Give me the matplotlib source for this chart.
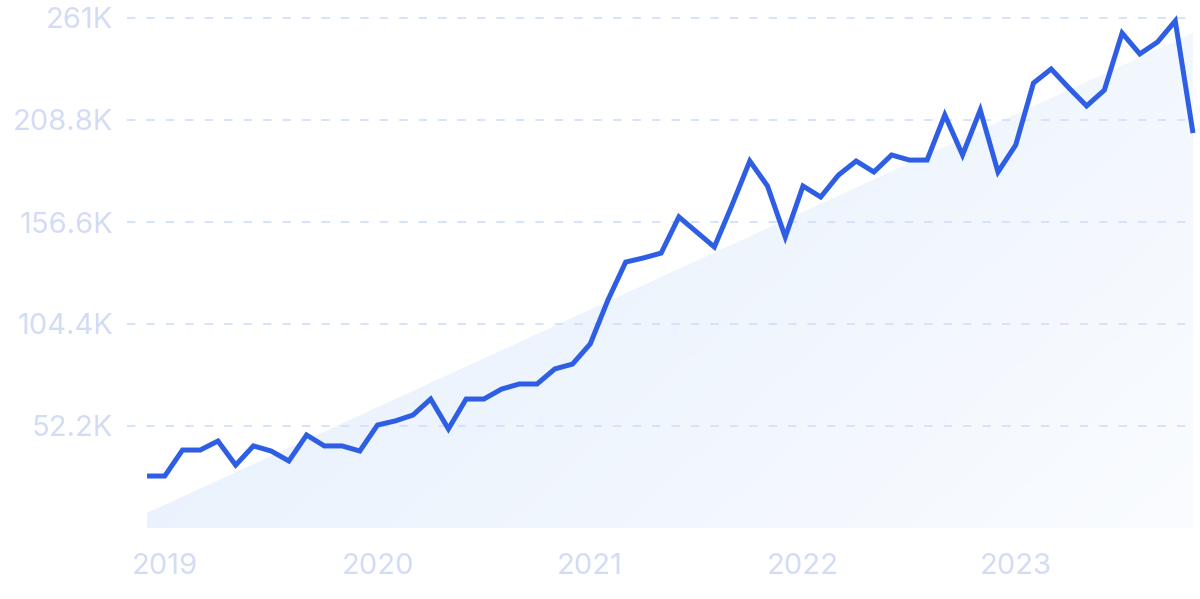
import numpy as np
import pandas as pd
import matplotlib
matplotlib.use("Agg")
import matplotlib.pyplot as plt
from matplotlib.colors import LinearSegmentedColormap

# monthly values, Dec 2018 .. Nov 2023
months = pd.date_range("2018-12-01", "2023-11-01", freq="MS")
values = [
    26.6, 26.6, 39.9, 39.9, 44.5, 32.2, 42.0, 39.4, 34.3, 47.6,
    42.0, 42.0, 39.4, 52.7, 54.8, 57.8, 66.0, 50.7, 66.0, 66.0,
    71.1, 73.7, 73.7, 81.4, 83.9, 94.2, 116.7, 136.1, 138.2, 140.7,
    159.2, 151.5, 143.8, 165.3, 187.8, 175.0, 148.9, 175.0, 169.4, 180.6,
    187.8, 182.2, 190.9, 188.3, 188.3, 211.4, 190.9, 213.9, 182.2, 196.0,
    227.7, 234.9, 225.2, 216.0, 224.1, 253.3, 242.6, 248.7, 259.5, 202.1,
]
trend_ends = [7.7, 253.3]

y_ticks = [52.2, 104.4, 156.6, 208.8, 261.0]
y_labels = ["52.2K", "104.4K", "156.6K", "208.8K", "261K"]
year_labels = ["2019", "2020", "2021", "2022", "2023"]

plt.rcParams["font.family"] = ["Inter", "DejaVu Sans"]
plt.rcParams["lines.scale_dashes"] = False

x = np.arange(len(values))
xticks = [i for i, m in enumerate(months) if m.month == 1]

fig = plt.figure(figsize=(12, 5.99), dpi=100)
ax = fig.add_axes([127 / 1200, 71 / 599, (1193 - 127) / 1200, (528 - 18) / 599])

# trend area with a soft diagonal gradient
trend = np.linspace(trend_ends[0], trend_ends[1], len(values))
poly = ax.fill_between(x, 0, trend, color="none", lw=0)
gx, gy = np.meshgrid(np.linspace(0, 1, 200), np.linspace(1, 0, 200))
grad = 0.65 * gx + 0.35 * (1 - gy)
cmap = LinearSegmentedColormap.from_list("fade", ["#e3eefc", "#fafcff"])
img = ax.imshow(grad, cmap=cmap, aspect="auto", extent=(0, len(values) - 1, 0, 261),
                origin="upper", zorder=1, interpolation="bilinear")
img.set_clip_path(poly.get_paths()[0], transform=ax.transData)
ax.set_xlim(-1.13, len(values) - 1)
ax.set_ylim(0, 261)

for t in y_ticks:
    ax.axhline(t, color="#d2e2fb", lw=1.3, ls=(0, (6, 8)), zorder=2, clip_on=False)

ax.plot(x, values, color="#2e5ee4", lw=3.6, zorder=3, clip_on=False,
        solid_joinstyle="miter", solid_capstyle="butt")

ax.set_yticks(y_ticks)
ax.set_yticklabels(y_labels)
ax.set_xticks(xticks)
ax.set_xticklabels(year_labels)
ax.tick_params(axis="y", length=0, pad=10, labelsize=21, labelcolor="#d3dcf5")
ax.tick_params(axis="x", length=0, pad=18, labelsize=21, labelcolor="#d3dcf5")
for s in ax.spines.values():
    s.set_visible(False)

fig.savefig("out.png", dpi=100)
